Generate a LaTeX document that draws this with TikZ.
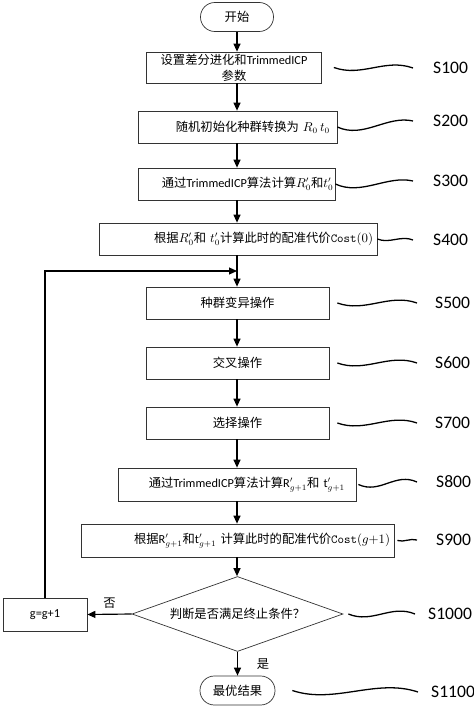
\documentclass[tikz,border=0pt]{standalone}
\usepackage{fontspec}
\setmainfont{Carlito}
\newfontfamily\cjk{Noto Sans CJK SC}
\usetikzlibrary{shapes.geometric,arrows.meta}
\newcommand{\zh}[1]{{\cjk #1}}

\begin{document}
\begin{tikzpicture}[x=0.3mm,y=-0.3mm,
        font=\fontsize{10.5}{13.5}\selectfont,
        box/.style={draw=black!80,line width=0.6pt,minimum height=9.6mm,inner sep=0pt},
        rbox/.style={box,align=right},
        term/.style={draw=black!80,line width=0.6pt,rounded corners=4.3mm,minimum height=8.7mm},
        flow/.style={-{Triangle[length=2.4mm,width=2.1mm]},line width=1pt},
        wave/.style={line width=1.1pt},
        steplabel/.style={anchor=west,inner sep=0pt,font=\fontsize{15}{17}\selectfont}]
        \useasboundingbox (0,0) rectangle (474,708);
        \node[term,minimum width=21.9mm] (start) at (237,17) {\zh{开始}};
        \node[box,minimum width=52.5mm,minimum height=9.3mm,align=center] (s1) at (234,67.5) {\zh{设置差分进化和}TrimmedICP\\\zh{参数}};
        \node[rbox,text width=55.5mm,inner xsep=2.1mm] (s2) at (237.5,127) {\zh{随机初始化种群转换为} $R_0\,t_0$};
        \node[rbox,text width=58.1mm,inner xsep=0.5mm] (s3) at (236.5,184) {\zh{通过}TrimmedICP\zh{算法计算}$R_0'$\zh{和}$t_0'$};
        \node[rbox,text width=81mm,inner xsep=1.2mm] (s4) at (238,239) {\zh{根据}$R_0'$\zh{和} $t_0'$\zh{计算此时的配准代价}\texttt{Cost}$\left(0\right)$};
        \node[box,minimum width=54.9mm] (s5) at (237.5,303) {\zh{种群变异操作}};
        \node[box,minimum width=54.9mm] (s6) at (237.5,363) {\zh{交叉操作}};
        \node[box,minimum width=54.9mm] (s7) at (237.5,423) {\zh{选择操作}};
        \node[rbox,text width=64.8mm,inner xsep=3.3mm,minimum height=9.9mm] (s8) at (237,484.5) {\zh{通过}TrimmedICP\zh{算法计算}$\mathrm{R}_{g+1}'$\zh{和} $\mathrm{t}_{g+1}'$};
        \node[rbox,text width=91.5mm,inner xsep=1.2mm,minimum height=9.9mm] (s9) at (237.5,540.5) {\zh{根据}$\mathrm{R}_{g+1}'$\zh{和}$\mathrm{t}_{g+1}'$ \zh{计算此时的配准代价}\texttt{Cost}$\left(g{+}1\right)$};
        \node[draw=black!80,line width=0.6pt,diamond,aspect=2.8,minimum width=63.3mm,minimum height=22.5mm,inner sep=0pt] (judge) at (237.5,614) {\zh{判断是否满足终止条件？}};
        \node[box,minimum width=25.2mm,minimum height=9.9mm] (inc) at (45,614.5) {g=g+1};
        \node[term,minimum width=22.5mm] (result) at (237.5,690.5) {\zh{最优结果}};
        \coordinate (join) at (237,271);

        % main flow
        \draw[flow] (start.south) -- (start.south |- s1.north);
        \draw[flow] (start.south |- s1.south) -- (start.south |- s2.north);
        \draw[flow] (start.south |- s2.south) -- (start.south |- s3.north);
        \draw[flow] (start.south |- s3.south) -- (start.south |- s4.north);
        \draw[flow] (start.south |- s4.south) -- (start.south |- s5.north);
        \draw[flow] (start.south |- s5.south) -- (start.south |- s6.north);
        \draw[flow] (start.south |- s6.south) -- (start.south |- s7.north);
        \draw[flow] (start.south |- s7.south) -- (start.south |- s8.north);
        \draw[flow] (start.south |- s8.south) -- (start.south |- s9.north);
        \draw[flow] (start.south |- s9.south) -- (start.south |- judge.north);
        \draw[flow] (judge.south) -- (result.north) node[midway,right=4.5mm] {\zh{是}};
        \draw[flow] (judge.west) -- (inc.east) node[midway,above,yshift=0.5mm] {\zh{否}};
        \draw[flow] (inc.north) |- (join);

        % step labels
        \foreach \n/\x/\y in {100/433/68,200/433/121,300/433/181,400/433/240,500/435/303,600/435/363,700/435/423,800/436/482,900/436/540,1000/428/614,1100/431/692}
            \node[steplabel] (l\n) at (\x,\y) {S\n};

        \draw[wave] ([xshift=3.6mm]s1.east) .. controls +(28,10) and +(-28,-10) .. ([xshift=-6mm]l100.west);
        \draw[wave] (s2.east) .. controls +(26,12) and +(-26,-6) .. ([xshift=-6mm]l200.west);
        \draw[wave] (s3.east) .. controls +(26,12) and +(-26,-6) .. ([xshift=-6mm]l300.west);
        \draw[wave] (s4.east) .. controls +(12,5) and +(-12,-5) .. ([xshift=-6mm]l400.west);
        \draw[wave] ([xshift=2.4mm]s5.east) .. controls +(28,10) and +(-28,-10) .. ([xshift=-5.4mm]l500.west);
        \draw[wave] ([xshift=2.4mm]s6.east) .. controls +(28,10) and +(-28,-10) .. ([xshift=-5.4mm]l600.west);
        \draw[wave] ([xshift=2.4mm]s7.east) .. controls +(28,10) and +(-28,-10) .. ([xshift=-5.4mm]l700.west);
        \draw[wave] ([xshift=0.6mm]s8.east) .. controls +(22,10) and +(-22,-10) .. ([xshift=-5.7mm]l800.west);
        \draw[wave] ([xshift=0.9mm]s9.east) .. controls +(7,2) and +(-7,-2) .. ([xshift=-5.7mm]l900.west);
        \draw[wave] ([xshift=1.5mm]judge.east) .. controls +(24,10) and +(-24,-10) .. ([xshift=-3.9mm]l1000.west);
        \draw[wave] ([xshift=5.1mm]result.east) .. controls +(42,14) and +(-42,-14) .. ([xshift=-3.9mm]l1100.west);
\end{tikzpicture}
\end{document}
